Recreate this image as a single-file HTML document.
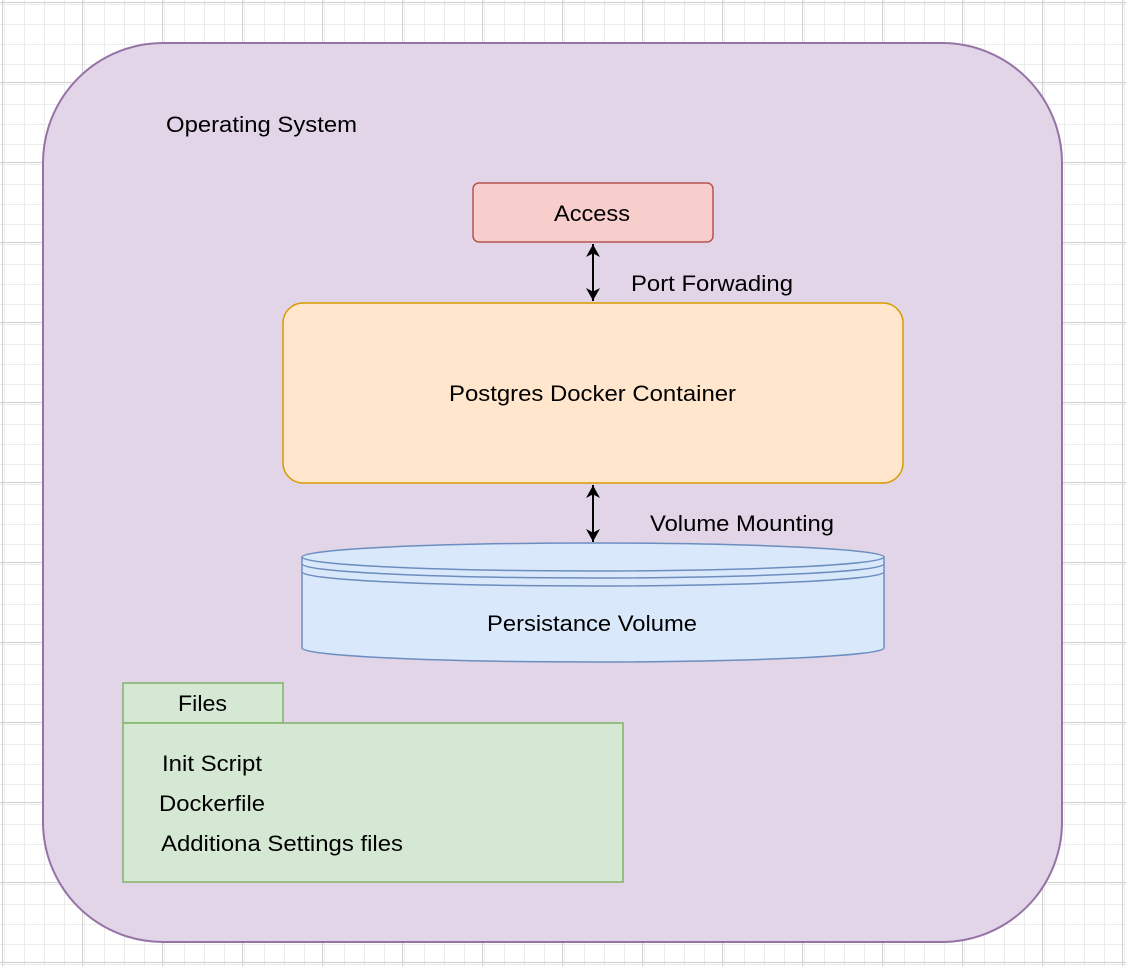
<!DOCTYPE html>
<html><head><style>
html,body{margin:0;padding:0;background:#fff;}
svg{display:block;}
text{font-family:"Liberation Sans",Helvetica,Arial,sans-serif;font-size:22px;fill:#000;}
</style></head><body>
<svg width="1126" height="966" viewBox="0 0 1126 966" xmlns="http://www.w3.org/2000/svg">
<defs>
<pattern id="minor" width="20" height="20" patternUnits="userSpaceOnUse" x="2" y="2">
<path d="M0 0.5H20M0.5 0V20" stroke="#ececec" stroke-width="1" fill="none"/>
</pattern>
<pattern id="major" width="80" height="80" patternUnits="userSpaceOnUse" x="2" y="2">
<rect width="80" height="80" fill="url(#minor)"/>
<path d="M0 0.5H80M0.5 0V80" stroke="#d0d0d0" stroke-width="1" fill="none"/>
</pattern>
<marker id="ah" viewBox="0 0 12 14" refX="13" refY="7" markerWidth="12" markerHeight="14" markerUnits="userSpaceOnUse" orient="auto-start-reverse">
<path d="M0 0L14 7L0 14L4 7Z" fill="#000" transform="scale(0.9,1)"/>
</marker>
</defs>
<rect width="1126" height="966" fill="#fff"/>
<rect width="1126" height="966" fill="url(#major)"/>
<rect x="43" y="43" width="1019" height="899" rx="120" ry="120" fill="#e1d5e7" stroke="#9673a6" stroke-width="2"/>
<text x="166" y="132" textLength="191" lengthAdjust="spacingAndGlyphs">Operating System</text>
<rect x="473" y="183" width="240" height="59" rx="6" fill="#f8cecc" stroke="#b85450" stroke-width="1.5"/>
<text x="554" y="221" textLength="76" lengthAdjust="spacingAndGlyphs">Access</text>
<line x1="593" y1="244" x2="593" y2="301" stroke="#000" stroke-width="2" marker-start="url(#ah)" marker-end="url(#ah)"/>
<text x="631" y="291" textLength="162" lengthAdjust="spacingAndGlyphs">Port Forwading</text>
<rect x="283" y="303" width="620" height="180" rx="20" fill="#ffe6cc" stroke="#d79b00" stroke-width="1.5"/>
<text x="449" y="401" textLength="287" lengthAdjust="spacingAndGlyphs">Postgres Docker Container</text>
<line x1="593" y1="485" x2="593" y2="542" stroke="#000" stroke-width="2" marker-start="url(#ah)" marker-end="url(#ah)"/>
<text x="650" y="531" textLength="184" lengthAdjust="spacingAndGlyphs">Volume Mounting</text>
<path d="M302 557 A291 14 0 0 1 884 557 L884 648 A291 14 0 0 1 302 648 Z" fill="#dae8fc" stroke="#6c8ebf" stroke-width="1.5"/>
<path d="M302 557 A291 14 0 0 0 884 557 M302 564 A291 14 0 0 0 884 564 M302 572 A291 14 0 0 0 884 572" fill="none" stroke="#6c8ebf" stroke-width="1.5"/>
<text x="487" y="631" textLength="210" lengthAdjust="spacingAndGlyphs">Persistance Volume</text>
<rect x="123" y="683" width="160" height="40" fill="#d5e8d4" stroke="#82b366" stroke-width="1.5"/>
<rect x="123" y="723" width="500" height="159" fill="#d5e8d4" stroke="#82b366" stroke-width="1.5"/>
<text x="178" y="711" textLength="49" lengthAdjust="spacingAndGlyphs">Files</text>
<text x="162" y="771" textLength="100" lengthAdjust="spacingAndGlyphs">Init Script</text>
<text x="159" y="811" textLength="106" lengthAdjust="spacingAndGlyphs">Dockerfile</text>
<text x="161" y="851" textLength="242" lengthAdjust="spacingAndGlyphs">Additiona Settings files</text>
</svg>
</body></html>
